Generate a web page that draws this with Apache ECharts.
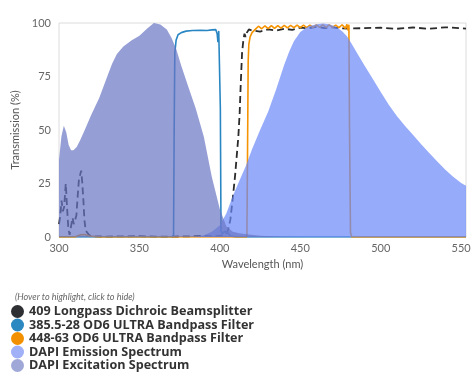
<!DOCTYPE html>
<html>
<head>
<meta charset="utf-8">
<script src="https://cdn.jsdelivr.net/npm/echarts@6/dist/echarts.min.js"></script>
<style>
html,body{margin:0;padding:0;background:#fff;}
#chart{width:474px;height:387px;}
</style>
</head>
<body>
<div id="chart"></div>
<script>
// Series names (legend order)
var seriesNames = [
  '409 Longpass Dichroic Beamsplitter',
  '385.5-28 OD6 ULTRA Bandpass Filter',
  '448-63 OD6 ULTRA Bandpass Filter',
  'DAPI Emission Spectrum',
  'DAPI Excitation Spectrum'
];
var xTicks = [300, 350, 400, 450, 500, 550];
var yTicks = [0, 25, 50, 75, 100];

// [wavelength (nm), transmission (%)]
var dichroicData = [
  [300,6],[300.8,10],[301.6,17],[302.4,12],[303.2,14],[304.2,25],[305,14],[305.8,4],[306.6,1],
  [307.5,5],[308.4,9],[309.2,6],[310,8],[310.8,10],[311.6,19],[312.4,27],[313.1,29],[313.8,31],
  [314.4,26],[315.1,18],[315.8,8],[316.6,3],[317.6,3.5],[318.6,1],[320,0.3],[330,0.2],[340,0.3],
  [350,0.4],[360,0.2],[370,0.2],[380,0.3],[390,0.5],[398,0.4],[403,0.8],[405,3],[406.5,8],
  [408,18],[409.5,29],[410.5,38],[411.5,47],[412.3,58],[413,72],[413.8,86],[414.6,92],[415.3,95],
  [416,93.5],[416.8,95.5],[418,97],[420,96.5],[425,96],[430,97],[435,96.5],[440,97.3],[445,96.8],
  [450,97.8],[455,97.5],[460,98.2],[465,97.6],[470,98],[475,97.5],[480,97.4],[490,97.6],[500,97.8],
  [510,97.3],[520,97.9],[530,97.3],[540,98],[553,97.4]
];
var bandpass385Data = [
  [300,0],[370.5,0],[371.2,1],[371.6,50],[372,86],[372.8,92],[374,94.5],[376,95.5],[379,96.2],
  [383,96.5],[388,96.6],[392,96.5],[395,96.8],[397.5,96.9],[398.3,95],[398.8,91],[399.3,96.3],
  [399.8,96],[400.3,60],[400.7,3],[401.5,1.5],[403,2.6],[405,2],[406.5,0.5],[410,0],[553,0]
];
var bandpass448Data = [
  [300,0],[310,0],[313,1],[316,1.2],[319,0.5],[325,0],[416.8,0],[417.2,40],[417.6,82],[418,90],
  [418.8,93.5],[420,95.5],[422,97],[424,98.5],[426,97.3],[428,98.7],[430,97.4],[432,98.8],[434,97.5],
  [436,98.8],[438,97.6],[440,98.9],[442,97.7],[444,98.9],[446,97.8],[448,99],[450,97.8],[452,99],
  [454,97.8],[456,99],[458,97.9],[460,99.1],[462,97.9],[464,99.1],[466,97.9],[468,99.1],[470,97.9],
  [472,99],[474,97.8],[476,99.2],[478,97.5],[479,99.4],[479.6,96.5],[480.2,99.2],[480.6,50],
  [481.2,2],[482,0],[553,0]
];
var emissionData = [
  [385,0],[390,0.8],[395,2.5],[400,5.5],[404,11],[408,19],[412,26],[416,33],[420,41],[425,50],
  [430,58.5],[435,69],[440,80.5],[443,86.5],[446,91.5],[450,95.8],[455,98.5],[460,99.4],[464,99.8],
  [468,99.4],[472,98.4],[476,96.2],[479,93.8],[482,90.2],[486,85],[490,80],[495,74],[500,67.8],
  [505,61.8],[510,56.5],[515,52],[520,47.8],[525,43.5],[530,39.4],[535,35.4],[540,31.6],[545,28.2],
  [550,25.2],[553,24]
];
var excitationData = [
  [300,36],[301.5,47],[303,52],[304.5,49],[306,43],[307.5,40.5],[309,40.5],[311,42],[313,45],
  [316,50],[320,57],[325,65],[330,75],[333,81],[336,85.5],[340,89],[345,91.8],[350,94],[355,97.5],
  [359,100],[363,99.3],[367,97],[370,93],[373,87.5],[376,80],[380,71],[385,60],[390,47],[395,28],
  [400,13],[404,5],[408,2.5],[412,1.8],[418,1.2],[425,0.6],[435,0.2],[450,0]
];

var legendColors = ['#2f3033', '#2b88c0', '#f39000', '#a0b1f7', '#9fa8d6'];

var chart = echarts.init(document.getElementById('chart'), null, {renderer: 'canvas'});
var baseFont = 'Lato, "Open Sans", sans-serif';

chart.setOption({
  animation: false,
  title: {
    text: '(Hover to highlight, click to hide)',
    left: 10, top: 288,
    textStyle: {fontSize: 9, fontStyle: 'italic', fontWeight: 'normal', color: '#666', fontFamily: baseFont}
  },
  legend: {
    orient: 'vertical',
    left: 11, top: 305,
    icon: 'circle',
    itemWidth: 13, itemHeight: 13,
    itemGap: 0.5,
    padding: 0,
    data: seriesNames,
    textStyle: {fontSize: 12.6, fontWeight: 'bold', color: '#333', fontFamily: '"Open Sans", Lato, sans-serif', lineHeight: 13}
  },
  grid: {left: 59, right: 8, top: 23, bottom: 150, show: true, borderColor: '#dcdcdc', borderWidth: 1},
  xAxis: {
    type: 'value', min: 300, max: 553, interval: 50,
    name: 'Wavelength (nm)', nameLocation: 'middle', nameGap: 22,
    nameTextStyle: {fontSize: 11, color: '#555', fontFamily: baseFont},
    axisLine: {show: false}, axisTick: {show: false}, splitLine: {show: false},
    axisLabel: {fontSize: 11, color: '#666', fontFamily: baseFont, margin: 6,
      formatter: function (v) { return xTicks.indexOf(v) >= 0 ? String(v) : ''; }}
  },
  yAxis: {
    type: 'value', min: 0, max: 100, interval: 25,
    name: 'Transmission (%)', nameLocation: 'middle', nameGap: 36,
    nameTextStyle: {fontSize: 11, color: '#555', fontFamily: baseFont},
    axisLine: {show: false}, axisTick: {show: false}, splitLine: {show: false},
    axisLabel: {fontSize: 11, color: '#666', fontFamily: baseFont, margin: 8,
      formatter: function (v) { return yTicks.indexOf(v) >= 0 ? String(v) : ''; }}
  },
  series: [
    {
      name: seriesNames[0], type: 'line', data: dichroicData, symbol: 'none', z: 2,
      itemStyle: {color: legendColors[0]},
      lineStyle: {color: '#2b2b2b', width: 1.8, type: [7, 4]},
      emphasis: {focus: 'series'}
    },
    {
      name: seriesNames[1], type: 'line', data: bandpass385Data, symbol: 'none', z: 2,
      itemStyle: {color: legendColors[1]},
      lineStyle: {color: '#2a86c2', width: 1.6},
      emphasis: {focus: 'series'}
    },
    {
      name: seriesNames[2], type: 'line', data: bandpass448Data, symbol: 'none', z: 2,
      itemStyle: {color: legendColors[2]},
      lineStyle: {color: '#f59300', width: 1.6},
      emphasis: {focus: 'series'}
    },
    {
      name: seriesNames[3], type: 'line', data: emissionData, symbol: 'none', z: 3,
      smooth: false,
      itemStyle: {color: legendColors[3]},
      lineStyle: {width: 0, opacity: 0},
      areaStyle: {color: 'rgb(105,135,248)', opacity: 0.7},
      emphasis: {focus: 'series'}
    },
    {
      name: seriesNames[4], type: 'line', data: excitationData, symbol: 'none', z: 4,
      smooth: false,
      itemStyle: {color: legendColors[4]},
      lineStyle: {width: 0, opacity: 0},
      areaStyle: {color: 'rgb(104,117,195)', opacity: 0.7},
      emphasis: {focus: 'series'}
    }
  ]
});
</script>
</body>
</html>
